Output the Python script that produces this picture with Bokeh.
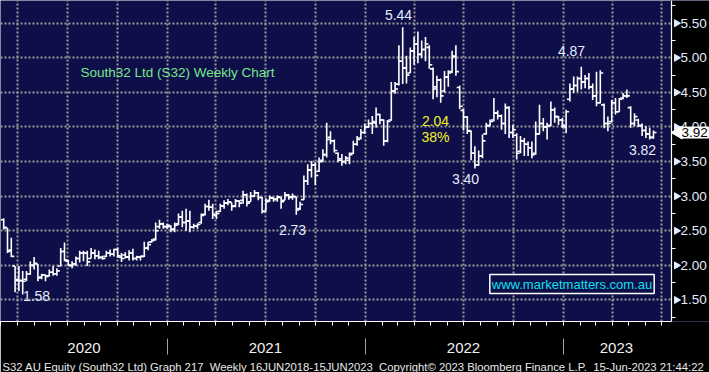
import numpy as np
import pandas as pd
from bokeh.plotting import figure
from bokeh.models import (ColumnDataSource, Range1d, LinearAxis, FixedTicker,
                          Grid, Label, Title, Span)
from bokeh.embed import file_html
from bokeh.resources import INLINE

# ---------------- data (weekly OHLC, South32 S32 AU) ----------------
first_week = "2020-03-06"
opens = [2.66, 2.54, 2.22, 1.99, 1.80, 1.78, 1.80, 1.88, 2.00, 2.02,
         1.83, 1.86, 1.85, 1.90, 1.88, 1.99, 2.20, 2.06, 2.00, 2.02,
         2.10, 2.18, 2.18, 2.10, 2.18, 2.14, 2.11, 2.13, 2.18, 2.16,
         2.23, 2.12, 2.15, 2.12, 2.18, 2.10, 2.12, 2.13, 2.25, 2.34,
         2.38, 2.56, 2.60, 2.56, 2.56, 2.52, 2.60, 2.70, 2.62, 2.64,
         2.55, 2.57, 2.62, 2.74, 2.85, 2.84, 2.72, 2.78, 2.86, 2.90,
         2.91, 2.86, 2.93, 2.94, 3.02, 2.92, 3.00, 3.05, 2.98, 2.78,
         2.94, 2.97, 2.96, 2.98, 2.94, 3.01, 2.99, 2.99, 2.82, 2.95,
         3.22, 3.38, 3.45, 3.36, 3.52, 3.60, 3.85, 3.80, 3.62, 3.54,
         3.50, 3.52, 3.62, 3.75, 3.84, 3.92, 4.00, 4.05, 4.06, 4.18,
         4.10, 3.80, 4.10, 4.52, 4.62, 4.95, 4.85, 4.78, 5.10, 5.20,
         5.05, 5.12, 5.15, 4.84, 4.58, 4.68, 4.52, 4.72, 4.80, 5.02,
         4.57, 4.24, 4.14, 3.94, 3.62, 3.45, 3.58, 3.90, 4.02, 4.10,
         4.20, 4.16, 4.05, 4.28, 3.92, 3.88, 3.65, 3.80, 3.75, 3.70,
         3.62, 3.90, 4.05, 4.00, 4.02, 4.25, 4.15, 4.10, 4.00, 4.40,
         4.55, 4.60, 4.70, 4.65, 4.70, 4.58, 4.45, 4.35, 4.32, 4.05,
         4.08, 4.35, 4.22, 4.42, 4.45, 4.28, 4.05, 4.10, 4.02, 3.95,
         3.90, 3.85]
highs = [2.68, 2.54, 2.40, 1.99, 1.99, 1.92, 1.92, 2.06, 2.12, 2.02,
         1.88, 1.87, 1.94, 1.99, 1.96, 2.25, 2.33, 2.08, 2.06, 2.13,
         2.21, 2.21, 2.21, 2.25, 2.23, 2.21, 2.14, 2.21, 2.23, 2.24,
         2.26, 2.18, 2.19, 2.22, 2.24, 2.14, 2.14, 2.34, 2.34, 2.38,
         2.62, 2.66, 2.62, 2.60, 2.58, 2.62, 2.75, 2.79, 2.82, 2.79,
         2.60, 2.61, 2.75, 2.89, 2.95, 2.89, 2.79, 2.89, 2.94, 2.96,
         2.91, 2.96, 2.94, 3.08, 3.04, 3.06, 3.09, 3.06, 2.99, 2.97,
         3.01, 2.99, 3.01, 2.99, 3.06, 3.03, 3.04, 2.99, 2.92, 3.30,
         3.46, 3.51, 3.49, 3.56, 3.68, 4.06, 3.94, 3.82, 3.63, 3.61,
         3.58, 3.63, 3.80, 3.87, 3.97, 4.05, 4.11, 4.16, 4.28, 4.19,
         4.11, 4.10, 4.65, 4.65, 5.18, 5.44, 5.03, 5.15, 5.30, 5.38,
         5.25, 5.30, 5.18, 4.86, 4.74, 4.70, 4.81, 4.82, 5.10, 5.18,
         4.60, 4.26, 4.16, 3.95, 3.72, 3.66, 3.89, 4.06, 4.11, 4.42,
         4.24, 4.18, 4.34, 4.30, 4.03, 3.91, 3.87, 3.84, 3.79, 3.79,
         4.08, 4.32, 4.13, 4.06, 4.37, 4.28, 4.16, 4.13, 4.25, 4.63,
         4.73, 4.73, 4.87, 4.75, 4.78, 4.63, 4.80, 4.82, 4.34, 4.15,
         4.39, 4.42, 4.42, 4.49, 4.54, 4.30, 4.20, 4.12, 4.05, 4.01,
         3.99, 3.95]
lows = [2.52, 2.18, 2.12, 1.61, 1.63, 1.58, 1.77, 1.86, 1.94, 1.77,
        1.80, 1.77, 1.84, 1.85, 1.85, 1.99, 2.06, 1.99, 1.96, 1.99,
        2.04, 2.06, 1.99, 2.10, 2.09, 2.09, 2.08, 2.12, 2.13, 2.13,
        2.11, 2.05, 2.10, 2.07, 2.07, 2.07, 2.07, 2.12, 2.22, 2.33,
        2.36, 2.53, 2.53, 2.53, 2.48, 2.48, 2.58, 2.55, 2.50, 2.48,
        2.53, 2.53, 2.60, 2.72, 2.79, 2.67, 2.67, 2.77, 2.82, 2.87,
        2.79, 2.84, 2.84, 2.89, 2.85, 2.92, 2.99, 2.94, 2.75, 2.78,
        2.92, 2.92, 2.92, 2.82, 2.94, 2.95, 2.95, 2.73, 2.80, 2.95,
        3.16, 3.27, 3.16, 3.35, 3.49, 3.56, 3.75, 3.63, 3.49, 3.44,
        3.46, 3.46, 3.61, 3.73, 3.82, 3.90, 3.99, 3.90, 3.99, 4.04,
        3.73, 3.78, 4.09, 4.48, 4.60, 4.62, 4.63, 4.78, 4.90, 4.92,
        5.00, 4.95, 4.84, 4.40, 4.43, 4.35, 4.50, 4.58, 4.78, 4.74,
        4.26, 3.95, 3.90, 3.52, 3.40, 3.44, 3.55, 3.89, 4.01, 4.08,
        4.11, 3.96, 3.90, 3.84, 3.84, 3.53, 3.62, 3.58, 3.58, 3.55,
        3.60, 3.89, 3.94, 3.82, 4.01, 4.06, 4.03, 3.99, 3.91, 4.37,
        4.49, 4.51, 4.54, 4.56, 4.54, 4.39, 4.30, 4.34, 3.98, 3.94,
        4.06, 4.18, 4.22, 4.40, 4.42, 3.99, 4.01, 4.00, 3.87, 3.84,
        3.82, 3.83]
closes = [2.55, 2.20, 2.13, 1.78, 1.78, 1.77, 1.88, 2.00, 2.03, 1.82,
          1.86, 1.84, 1.90, 1.88, 1.92, 2.20, 2.08, 2.00, 2.02, 2.10,
          2.18, 2.18, 2.05, 2.18, 2.14, 2.12, 2.10, 2.18, 2.16, 2.23,
          2.14, 2.10, 2.12, 2.18, 2.10, 2.12, 2.13, 2.25, 2.30, 2.36,
          2.50, 2.60, 2.56, 2.58, 2.52, 2.58, 2.70, 2.62, 2.64, 2.55,
          2.57, 2.59, 2.72, 2.85, 2.84, 2.74, 2.75, 2.86, 2.90, 2.92,
          2.85, 2.93, 2.90, 3.02, 2.90, 3.00, 3.05, 2.98, 2.78, 2.92,
          2.98, 2.95, 2.99, 2.92, 3.02, 2.98, 3.00, 2.80, 2.88, 3.22,
          3.38, 3.45, 3.30, 3.50, 3.60, 3.82, 3.80, 3.66, 3.52, 3.50,
          3.55, 3.60, 3.75, 3.82, 3.92, 4.00, 4.05, 4.08, 4.18, 4.10,
          3.80, 4.08, 4.52, 4.55, 4.95, 4.85, 4.75, 5.10, 5.20, 5.05,
          5.12, 5.20, 4.90, 4.55, 4.68, 4.45, 4.72, 4.78, 5.02, 4.80,
          4.30, 4.14, 3.95, 3.62, 3.45, 3.58, 3.80, 4.02, 4.08, 4.20,
          4.16, 4.05, 4.28, 3.92, 3.96, 3.62, 3.80, 3.75, 3.70, 3.60,
          3.90, 4.05, 4.00, 4.02, 4.25, 4.15, 4.10, 4.02, 4.22, 4.55,
          4.60, 4.70, 4.65, 4.70, 4.58, 4.45, 4.35, 4.78, 4.05, 4.05,
          4.35, 4.22, 4.40, 4.45, 4.45, 4.05, 4.15, 4.02, 3.95, 3.90,
          3.85, 3.92]
price_ticks = [1.5, 2.0, 2.5, 3.0, 3.5, 4.0, 4.5, 5.0, 5.5]
year_labels = ["2020", "2021", "2022", "2023"]
year_label_months = ["2020-08-01", "2021-07-01", "2022-07-01", "2023-04-01"]
last_price = 3.92

# ---------------- helpers ----------------
EPOCH = pd.Timestamp("1970-01-01")
def ms(ts):
    return float((pd.Timestamp(ts) - EPOCH) / pd.Timedelta(milliseconds=1))

DAY = 86400000.0
PXD = 3.8 / 7.0                      # pixels per day
x0 = ms("2020-02-29 02:40")          # left edge of the chart
def px(xp):                           # pixel column -> time
    return x0 + xp / PXD * DAY

AXIS_X = px(671)                      # where the price axis sits
x_end = px(709)
y0, y1 = 1.189, 5.828

weeks = pd.date_range(first_week, periods=len(closes), freq="7D")
t = np.array([ms(w) for w in weeks])

NAVY = "#0e0e48"
GRID = "#9a9a9a"
NUM = "#e4ecff"
FONT = "Liberation Sans"

p = figure(width=709, height=372, x_range=Range1d(x0, x_end), y_range=Range1d(y0, y1),
           x_axis_type=None, y_axis_type=None,
           output_backend="svg", toolbar_location=None,
           min_border_left=0, min_border_top=0, min_border_right=0,
           min_border_bottom=51)
p.background_fill_color = NAVY
p.border_fill_color = "black"
p.outline_line_color = None

# grids
quarters = [ms(d) for d in pd.date_range("2020-04-01", "2023-07-01", freq="QS")]
p.add_layout(Grid(dimension=0, ticker=FixedTicker(ticks=quarters),
                  grid_line_color=GRID, grid_line_width=2, grid_line_dash="2 2"), "center")
p.add_layout(Grid(dimension=1, ticker=FixedTicker(ticks=price_ticks),
                  grid_line_color=GRID, grid_line_width=2, grid_line_dash="2 2"), "center")

# OHLC bars
tick = 5.5 * DAY
src = ColumnDataSource(dict(t=t, tl=t - tick, tr=t + tick, o=opens, h=highs,
                            l=lows, c=closes))
p.segment(x0="t", y0="l", x1="t", y1="h", source=src, line_color="white", line_width=1.6)
p.segment(x0="tl", y0="o", x1="t", y1="o", source=src, line_color="white", line_width=1.6)
p.segment(x0="t", y0="c", x1="tr", y1="c", source=src, line_color="white", line_width=1.6)

# black strip for the price scale, axis line, tick triangles
p.quad(left=AXIS_X, right=x_end, bottom=y0, top=y1, fill_color="black", line_color=None)
p.add_layout(Span(location=AXIS_X, dimension="height", line_color="white", line_width=1.2))
p.scatter(x=[px(676)] * len(price_ticks), y=price_ticks, marker="triangle",
          angle=-np.pi / 2, size=7, fill_color=NUM, line_color=NUM)

# right price axis (labels pulled into the strip)
minor = [v - 0.25 for v in price_ticks] + [price_ticks[-1] + 0.25]
yaxis = LinearAxis(ticker=FixedTicker(ticks=price_ticks, minor_ticks=minor),
                   major_label_overrides={v: f"{v:.2f}" for v in price_ticks},
                   axis_line_color=None,
                   major_tick_line_color=None, major_tick_out=0, major_tick_in=0,
                   minor_tick_line_color="white", minor_tick_out=-34, minor_tick_in=38,
                   major_label_standoff=-29, major_label_text_color=NUM,
                   major_label_text_font=FONT, major_label_text_font_size="13.5px")
p.add_layout(yaxis, "right")

# bottom time axis: month ticks, year labels, year separators
months = [ms(d) for d in pd.date_range("2020-03-01", "2023-07-01", freq="MS")]
label_at = {ms(d): lab for d, lab in zip(year_label_months, year_labels)}
label_at[ms(year_label_months[-1])] = "\u2007" + year_labels[-1]
ystarts = [ms("2021-01-01"), ms("2022-01-01"), ms("2023-01-01")]
xaxis = LinearAxis(ticker=FixedTicker(ticks=months, minor_ticks=ystarts),
                   major_label_overrides={m: label_at.get(m, "") for m in months},
                   axis_line_color="white", axis_line_width=1.2, bounds=(x0, AXIS_X),
                   major_tick_line_color="white", major_tick_out=4, major_tick_in=0,
                   minor_tick_line_color="#a0a0a0", minor_tick_in=-17, minor_tick_out=33,
                   major_label_standoff=-16, major_label_text_color="#f0f0f0",
                   major_label_text_font=FONT, major_label_text_font_size="15px")
p.add_layout(xaxis, "below")

footer = Title(text="S32 AU Equity (South32 Ltd) Graph 217\u00a0 Weekly 16JUN2018-15JUN2023\u00a0 "
                    "Copyright\u00a9 2023 Bloomberg Finance L.P.\u00a0 15-Jun-2023 21:44:22",
               align="left", text_color="#e8e8e8", text_font=FONT,
               text_font_size="11.3px", text_font_style="normal", standoff=0, offset=2)
p.add_layout(footer, "below")

# annotations (screen units relative to the frame)
H = 321
def lab(txt, x, y, color=NUM, size="14px", align="center"):
    p.add_layout(Label(x=x, y=H - y, x_units="screen", y_units="screen", text=txt,
                       text_color=color, text_font=FONT, text_font_size=size,
                       text_align=align, text_baseline="middle"))

lab("South32 Ltd (S32) Weekly Chart", 80, 72, color="#78e68c", size="13.5px", align="left")
lab("5.44", 398, 14)
lab("2.73", 292, 229)
lab("1.58", 36, 295)
lab("3.40", 465, 178)
lab("4.87", 571, 50)
lab("3.82", 642, 149)
lab("2.04", 435, 120, color="#f2f22a")
lab("38%", 435, 136, color="#f2f22a")

p.add_layout(Label(x=571.5, y=H - 283.5, x_units="screen", y_units="screen",
                   text="www.marketmatters.com.au", text_color="#10e0ee", text_font=FONT,
                   text_font_size="13px", text_align="center", text_baseline="middle",
                   border_line_color="white", border_line_width=1.5,
                   background_fill_color=NAVY, padding=2))

# last price tag
p.scatter(x=[px(678)], y=[last_price], marker="triangle", angle=np.pi / 2, size=13,
          fill_color="white", line_color="white")
p.add_layout(Label(x=680, y=last_price, x_units="screen", y_units="data", text=f"{last_price:.2f}",
                   text_color="black", text_font=FONT, text_font_size="13.5px",
                   text_align="left", text_baseline="middle",
                   background_fill_color="white", border_line_color="white", padding=1))

open("out.html", "w").write(file_html(p, INLINE))
